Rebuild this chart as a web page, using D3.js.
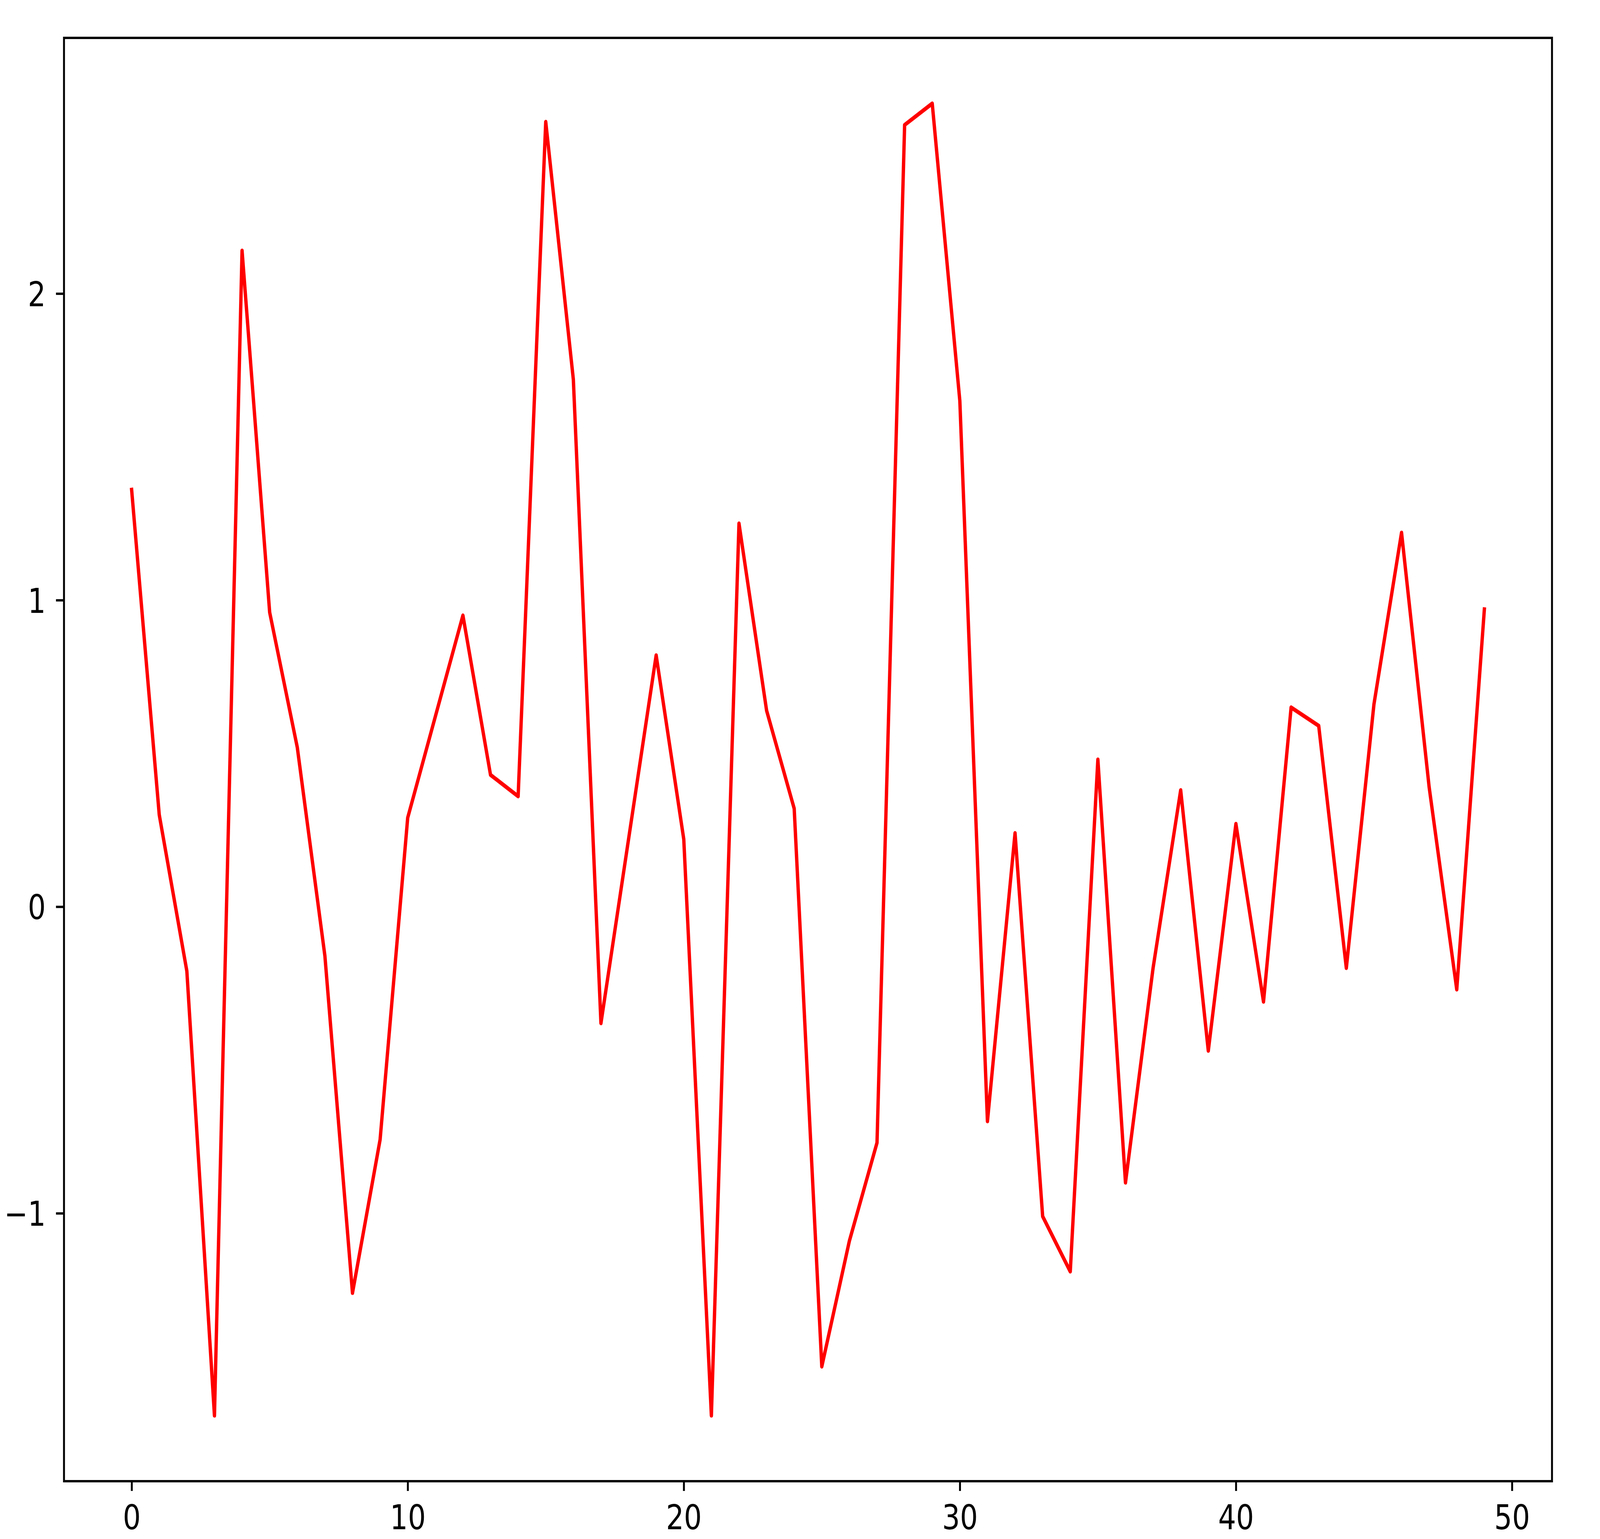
<!DOCTYPE html>
<html>
<head>
<meta charset="utf-8">
<script src="https://cdn.jsdelivr.net/npm/d3@7"></script>
<style>
  html, body { margin: 0; padding: 0; background: #fff; overflow: hidden; }
  svg { display: block; width: 100vw; height: 100vh; }
</style>
</head>
<body>
<svg id="chart"></svg>
<script>
// values, one per x step
const xValues = d3.range(50);
const yValues = [
  1.36, 0.30, -0.21, -1.66, 2.14, 0.96, 0.52, -0.16, -1.26, -0.76,
  0.29, 0.62, 0.95, 0.43, 0.36, 2.56, 1.72, -0.38, 0.22, 0.82,
  0.22, -1.66, 1.25, 0.64, 0.32, -1.50, -1.09, -0.77, 2.55, 2.62,
  1.65, -0.70, 0.24, -1.01, -1.19, 0.48, -0.90, -0.20, 0.38, -0.47,
  0.27, -0.31, 0.65, 0.59, -0.20, 0.66, 1.22, 0.39, -0.27, 0.97
];
const xTicks = [0, 10, 20, 30, 40, 50];
const yTicks = [-1, 0, 1, 2];

const width = 5000;
const height = 3940;
const margin = {top: 97, right: 150, bottom: 148, left: 200};
const fontSize = 88;
const tickLen = 25;

// the window is narrower than 5000, so the drawing is stretched to fill it
const svg = d3.select("#chart")
  .attr("viewBox", [0, 0, width, height])
  .attr("preserveAspectRatio", "none");

// matplotlib style 5% padding around the data
const xMin = d3.min(xValues), xMax = d3.max(xValues);
const yMin = d3.min(yValues), yMax = d3.max(yValues);
const xPad = (xMax - xMin) * 0.05;
const yPad = (yMax - yMin) * 0.05;

const x = d3.scaleLinear()
  .domain([xMin - xPad, xMax + xPad])
  .range([margin.left, width - margin.right]);

const y = d3.scaleLinear()
  .domain([yMin - yPad, yMax + yPad])
  .range([height - margin.bottom, margin.top]);

const line = d3.line()
  .x((d, i) => x(xValues[i]))
  .y(d => y(d));

svg.append("path")
  .datum(yValues)
  .attr("fill", "none")
  .attr("stroke", "#ff0000")
  .attr("stroke-width", 10.5)
  .attr("stroke-linejoin", "round")
  .attr("stroke-linecap", "square")
  .attr("d", line);

// axes
const xAxis = svg.append("g")
  .attr("transform", `translate(0,${height - margin.bottom})`)
  .call(d3.axisBottom(x).tickValues(xTicks).tickSize(tickLen).tickPadding(36).tickFormat(d3.format("d")));

const yAxis = svg.append("g")
  .attr("transform", `translate(${margin.left},0)`)
  .call(d3.axisLeft(y).tickValues(yTicks).tickSize(tickLen).tickPadding(32).tickFormat(d3.format("d")));

[xAxis, yAxis].forEach(ax => {
  ax.select(".domain").remove();
  ax.selectAll(".tick line").attr("stroke", "#000").attr("stroke-width", 6);
  ax.selectAll(".tick text")
    .attr("fill", "#000")
    .attr("font-family", "'DejaVu Sans', sans-serif")
    .attr("font-size", fontSize);
});
yAxis.selectAll(".tick text").attr("dy", "0.36em");

// frame
svg.append("rect")
  .attr("x", margin.left)
  .attr("y", margin.top)
  .attr("width", width - margin.left - margin.right)
  .attr("height", height - margin.top - margin.bottom)
  .attr("fill", "none")
  .attr("stroke", "#000")
  .attr("stroke-width", 6);
</script>
</body>
</html>
